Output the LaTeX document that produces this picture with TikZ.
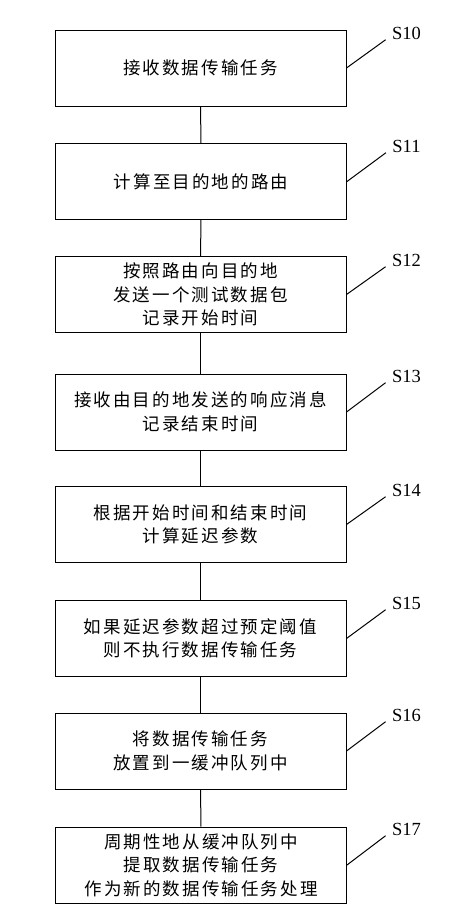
\documentclass[tikz,border=0pt]{standalone}
\usepackage{fontspec}
\setmainfont{Liberation Serif}
\newfontfamily\cjk[LetterSpace=12]{Noto Sans CJK SC}
\usepackage{tikz}

\begin{document}
\begin{tikzpicture}[x=1pt, y=-1pt, line width=1pt,
  box/.style={draw, minimum width=291pt, minimum height=76pt, align=center,
    font=\cjk\fontsize{17.5}{23.5}\selectfont},
  lbl/.style={inner xsep=6pt, inner ysep=0pt, font=\fontsize{18.5}{20}\selectfont}]
\useasboundingbox (0,0) rectangle (474,916);
\node[box] (s10) at ( 200.5 , 68 ) {接收数据传输任务};
\node[box] (s11) at ( 201 , 181.5 ) {计算至目的地的路由};
\node[box] (s12) at ( 200.5 , 294.5 ) {按照路由向目的地\\发送一个测试数据包\\记录开始时间};
\node[box] (s13) at ( 200.5 , 412 ) {接收由目的地发送的响应消息\\记录结束时间};
\node[box] (s14) at ( 200.5 , 524.5 ) {根据开始时间和结束时间\\计算延迟参数};
\node[box] (s15) at ( 200.5 , 638.5 ) {如果延迟参数超过预定阈值\\则不执行数据传输任务};
\node[box] (s16) at ( 200.5 , 751 ) {将数据传输任务\\放置到一缓冲队列中};
\node[box] (s17) at ( 201 , 865 ) {周期性地从缓冲队列中\\提取数据传输任务\\作为新的数据传输任务处理};
\node[lbl] (t10) at ( 406.5 , 33 ) {S10};
\node[lbl] (t11) at ( 406.5 , 146 ) {S11};
\node[lbl] (t12) at ( 406.5 , 260 ) {S12};
\node[lbl] (t13) at ( 406.5 , 376 ) {S13};
\node[lbl] (t14) at ( 406.5 , 490 ) {S14};
\node[lbl] (t15) at ( 406.5 , 603 ) {S15};
\node[lbl] (t16) at ( 406.5 , 715 ) {S16};
\node[lbl] (t17) at ( 406.5 , 829 ) {S17};
\draw (s10) -- (s11);
\draw (s11) -- (s12);
\draw (s12) -- (s13);
\draw (s13) -- (s14);
\draw (s14) -- (s15);
\draw (s15) -- (s16);
\draw (s16) -- (s17);
\draw (s10.east) -- (t10.south west);
\draw (s11.east) -- (t11.south west);
\draw (s12.east) -- (t12.south west);
\draw (s13.east) -- (t13.south west);
\draw (s14.east) -- (t14.south west);
\draw (s15.east) -- (t15.south west);
\draw (s16.east) -- (t16.south west);
\draw (s17.east) -- (t17.south west);

\end{tikzpicture}
\end{document}
